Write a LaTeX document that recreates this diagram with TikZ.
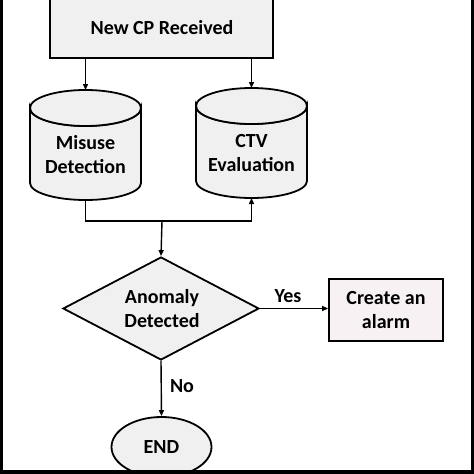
\documentclass[tikz,border=0pt]{standalone}
\usepackage{fontspec}
\setmainfont{Carlito}
\usetikzlibrary{shapes.geometric,arrows.meta}
\definecolor{shapefill}{HTML}{F0F0F0}
\definecolor{alarmfill}{HTML}{F8F1F3}
\tikzset{
  shp/.style={draw=black, line width=1.8pt, fill=shapefill},
  lbl/.style={font=\bfseries\fontsize{20}{24}\selectfont, align=center, inner sep=0pt},
  conn/.style={line width=1.4pt, -{Triangle[length=6pt,width=5pt]}},
  plain/.style={line width=1.4pt},
}
\begin{document}
\begin{tikzpicture}[x=1pt,y=-1pt]
\useasboundingbox (0,0) rectangle (474,474);
\fill[white] (0,0) rectangle (474,474);
% top box
\node[shp, rectangle, minimum width=223pt, minimum height=72pt, inner sep=0pt] (cp) at (161.5,22) {};
\node[lbl] (cptext) at (162,28) {New CP Received};
% cylinder 1
\filldraw[shp] (30,108) -- (30,183) arc[start angle=180, end angle=0, x radius=55.5, y radius=17] -- (141,108) arc[start angle=0, end angle=180, x radius=55.5, y radius=18] -- cycle;
\draw[shp] (85.5,108) ellipse[x radius=55.5, y radius=18];
\coordinate (mdtop) at (85.5,90);
\coordinate (mdbot) at (85.5,200);
\node[lbl] (md) at (85.5,155) {Misuse\\Detection};
% cylinder 2
\filldraw[shp] (196,106) -- (196,181) arc[start angle=180, end angle=0, x radius=55.5, y radius=17] -- (307,106) arc[start angle=0, end angle=180, x radius=55.5, y radius=18] -- cycle;
\draw[shp] (251.5,106) ellipse[x radius=55.5, y radius=18];
\coordinate (ctvtop) at (251.5,88);
\coordinate (ctvbot) at (251.5,198);
\node[lbl] (ctv) at (251.5,153) {CTV\\Evaluation};
% arrows from top box
\draw[conn] (cp.south -| mdtop) -- (mdtop);
\draw[conn] (cp.south -| ctvtop) -- (ctvtop);
% merge
\coordinate (j1) at (85.5,221);
\coordinate (j2) at (251.5,221);
\coordinate (jm) at (162,221);
\draw[plain] (mdbot) -- (j1) -- (j2);
\draw[conn] (j2) -- (ctvbot);
% diamond
\node[shp, diamond, minimum width=196pt, minimum height=103pt, inner sep=0pt, line width=1.8pt] (anom) at (161,308.5) {};
\node[lbl] (anomtext) at (162,309) {Anomaly\\Detected};
\draw[conn] (jm) -- (anom.north);
% alarm
\node[shp, fill=alarmfill, rectangle, minimum width=114pt, minimum height=62pt, inner sep=0pt] (alarm) at (386,310) {};
\node[lbl] (alarmtext) at (386,310) {Create an\\alarm};
\draw[conn] (anom.east) -- (anom.east -| alarm.west);
\node[lbl] (yes) at (288,296) {Yes};
% end
\node[shp, ellipse, minimum width=100pt, minimum height=60pt, inner sep=0pt] (endn) at (161.5,447) {};
\node[lbl] (endtext) at (161.5,447) {END};
\draw[conn] (anom.south) -- (endn.north);
\node[lbl] (no) at (182,386) {No};
% frame strips
\fill[black] (0,0) rectangle (3,474);
\fill[black] (471,0) rectangle (474,474);
\fill[black] (0,470) rectangle (474,474);
\end{tikzpicture}
\end{document}
